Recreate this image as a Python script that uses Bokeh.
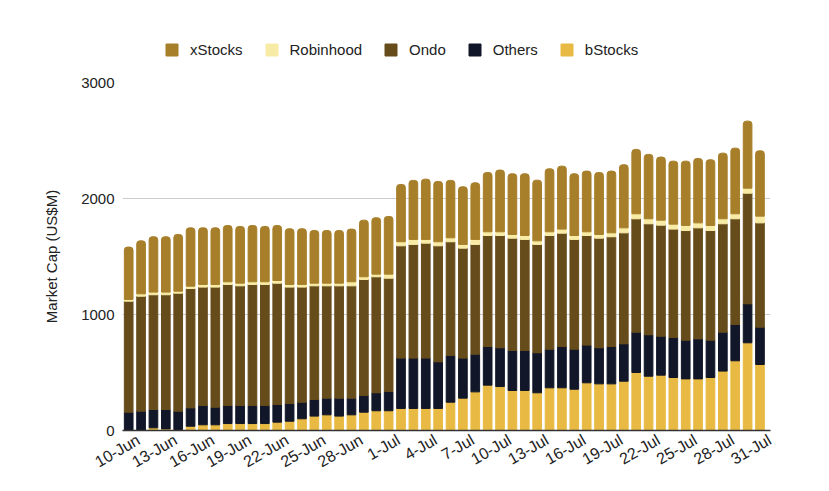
import math
from bokeh.plotting import figure
from bokeh.layouts import column
from bokeh.models import ColumnDataSource, Range1d, FixedTicker, Legend, LegendItem
from bokeh.transform import stack
from bokeh.embed import file_html
from bokeh.resources import INLINE

dates = ["10-Jun", "11-Jun", "12-Jun", "13-Jun", "14-Jun", "15-Jun", "16-Jun", "17-Jun",
         "18-Jun", "19-Jun", "20-Jun", "21-Jun", "22-Jun", "23-Jun", "24-Jun", "25-Jun",
         "26-Jun", "27-Jun", "28-Jun", "29-Jun", "30-Jun", "1-Jul", "2-Jul", "3-Jul",
         "4-Jul", "5-Jul", "6-Jul", "7-Jul", "8-Jul", "9-Jul", "10-Jul", "11-Jul",
         "12-Jul", "13-Jul", "14-Jul", "15-Jul", "16-Jul", "17-Jul", "18-Jul", "19-Jul",
         "20-Jul", "21-Jul", "22-Jul", "23-Jul", "24-Jul", "25-Jul", "26-Jul", "27-Jul",
         "28-Jul", "29-Jul", "30-Jul", "31-Jul"]

bStocks = [0, 0, 23, 14, 9, 37, 49, 49, 60, 60, 60, 60, 72, 80, 101, 124, 135, 124, 135, 158,
           170, 170, 190, 190, 190, 190, 244, 279, 333, 391, 379, 345, 345, 325, 368, 368,
           356, 411, 402, 402, 425, 500, 468, 477, 457, 445, 445, 457, 512, 601, 756, 569]
others = [158, 167, 158, 167, 158, 158, 167, 152, 156, 156, 156, 156, 152, 153, 143, 143,
          144, 155, 144, 144, 155, 166, 434, 434, 434, 402, 403, 345, 325, 333, 334, 345,
          345, 345, 333, 356, 345, 325, 311, 322, 322, 348, 357, 336, 345, 334, 345, 322,
          336, 313, 336, 322]
ondo = [957, 991, 989, 989, 1017, 1029, 1020, 1035, 1043, 1031, 1043, 1043, 1046, 1003, 992,
        980, 968, 968, 968, 1000, 1000, 977, 968, 980, 991, 1000, 980, 948, 946, 957, 968,
        968, 957, 934, 980, 977, 946, 945, 945, 946, 957, 977, 957, 957, 934, 945, 957, 945,
        934, 911, 954, 899]
robinhood = [15, 20, 23, 23, 17, 20, 23, 23, 23, 23, 23, 23, 23, 23, 23, 23, 23, 23, 35, 23,
             23, 35, 35, 43, 32, 35, 34, 32, 43, 32, 32, 32, 34, 31, 32, 35, 34, 32, 32, 34,
             43, 43, 43, 43, 43, 44, 43, 44, 43, 43, 43, 58]
xStocks = [451, 457, 477, 477, 489, 503, 488, 488, 485, 489, 485, 477, 474, 480, 480, 454,
           454, 454, 454, 488, 486, 497, 494, 509, 520, 520, 495, 497, 488, 511, 532, 523,
           532, 523, 543, 543, 532, 523, 534, 532, 544, 555, 555, 544, 543, 554, 555, 566,
           566, 566, 578, 563]

series = ["bStocks", "Others", "Ondo", "Robinhood", "xStocks"]
colors = {"bStocks": "#E8BA43", "Others": "#111628", "Ondo": "#674C1B",
          "Robinhood": "#F8EBA6", "xStocks": "#A77F2A"}
legend_order = ["xStocks", "Robinhood", "Ondo", "Others", "bStocks"]
y_ticks = [0, 1000, 2000, 3000]

FONT = "Liberation Sans"
W = 820
LEG_H = 60
label_shift = 0.8          # rotated date labels sit a little right of their bar
x_end = len(dates) - 0.5 + 0.35

source = ColumnDataSource(data=dict(
    x=list(range(len(dates))), date=dates, bStocks=bStocks, Others=others, Ondo=ondo,
    Robinhood=robinhood, xStocks=xStocks))

# ---- legend strip (own small figure so the legend is not clipped by the chart frame) ----
lf = figure(width=W, height=LEG_H, output_backend="svg", toolbar_location=None,
            x_axis_location=None, y_axis_location=None, min_border=0,
            x_range=Range1d(-20, -19), y_range=Range1d(0, 1))
lf.outline_line_color = None
lf.xgrid.grid_line_color = None
lf.ygrid.grid_line_color = None
leg_items = []
for s in legend_order:
    # hidden renderers: only their legend swatches are drawn
    r = lf.vbar(x="x", top=s, width=0.7, color=colors[s], source=source, visible=False)
    leg_items.append(LegendItem(label=s, renderers=[r]))
legend = Legend(items=leg_items, location=(42, 2.5), orientation="horizontal",
                glyph_width=15, glyph_height=15, label_standoff=11, spacing=21,
                padding=0, margin=0, border_line_color=None, background_fill_alpha=0,
                label_text_font=FONT, label_text_font_size="15px",
                label_text_color="#222222")
lf.add_layout(legend)

# ---- main chart ----
p = figure(width=W, height=482 - LEG_H, output_backend="svg", toolbar_location=None,
           x_range=Range1d(-0.5, x_end), y_range=Range1d(0, 3000),
           min_border_left=122, min_border_right=50, min_border_top=82 - LEG_H,
           min_border_bottom=52)
p.outline_line_color = None
p.background_fill_color = "white"
p.border_fill_color = "white"

lower = series[:-1]
p.vbar_stack(lower, x="x", width=0.7, color=[colors[s] for s in lower], source=source)
p.vbar(x="x", width=0.7, bottom=stack(*lower), top=stack(*series),
       color=colors["xStocks"], source=source, border_radius=(3, 3, 0, 0))

tick_idx = list(range(0, len(dates), 3))
tick_pos = [i + label_shift for i in tick_idx]
p.xaxis.ticker = FixedTicker(ticks=tick_pos)
p.xaxis.major_label_overrides = {t: dates[i] for t, i in zip(tick_pos, tick_idx)}
p.xaxis.major_label_orientation = math.pi / 6
p.xaxis.major_tick_line_color = None
p.xaxis.major_tick_out = 0
p.xaxis.major_tick_in = 0
p.xaxis.minor_tick_line_color = None
p.xaxis.axis_line_color = "#333333"
p.xaxis.axis_line_width = 1.5
p.xaxis.major_label_text_font = FONT
p.xaxis.major_label_text_font_size = "16px"
p.xaxis.major_label_text_color = "#222222"
p.xaxis.major_label_standoff = 8

p.yaxis.ticker = FixedTicker(ticks=y_ticks)
p.yaxis.axis_line_color = None
p.yaxis.major_tick_line_color = None
p.yaxis.major_tick_out = 0
p.yaxis.major_tick_in = 0
p.yaxis.minor_tick_line_color = None
p.yaxis.major_label_text_font = FONT
p.yaxis.major_label_text_font_size = "15px"
p.yaxis.major_label_text_color = "#222222"
p.yaxis.major_label_standoff = 8
p.yaxis.axis_label = "Market Cap (US$M)"
p.yaxis.axis_label_text_font = FONT
p.yaxis.axis_label_text_font_size = "15px"
p.yaxis.axis_label_text_font_style = "normal"
p.yaxis.axis_label_text_color = "#222222"
p.yaxis.axis_label_standoff = 18

p.xgrid.grid_line_color = None
p.ygrid.grid_line_color = "#CCCCCC"
p.ygrid.grid_line_width = 1

layout = column(lf, p, spacing=0)
open("out.html", "w").write(file_html(layout, INLINE))
